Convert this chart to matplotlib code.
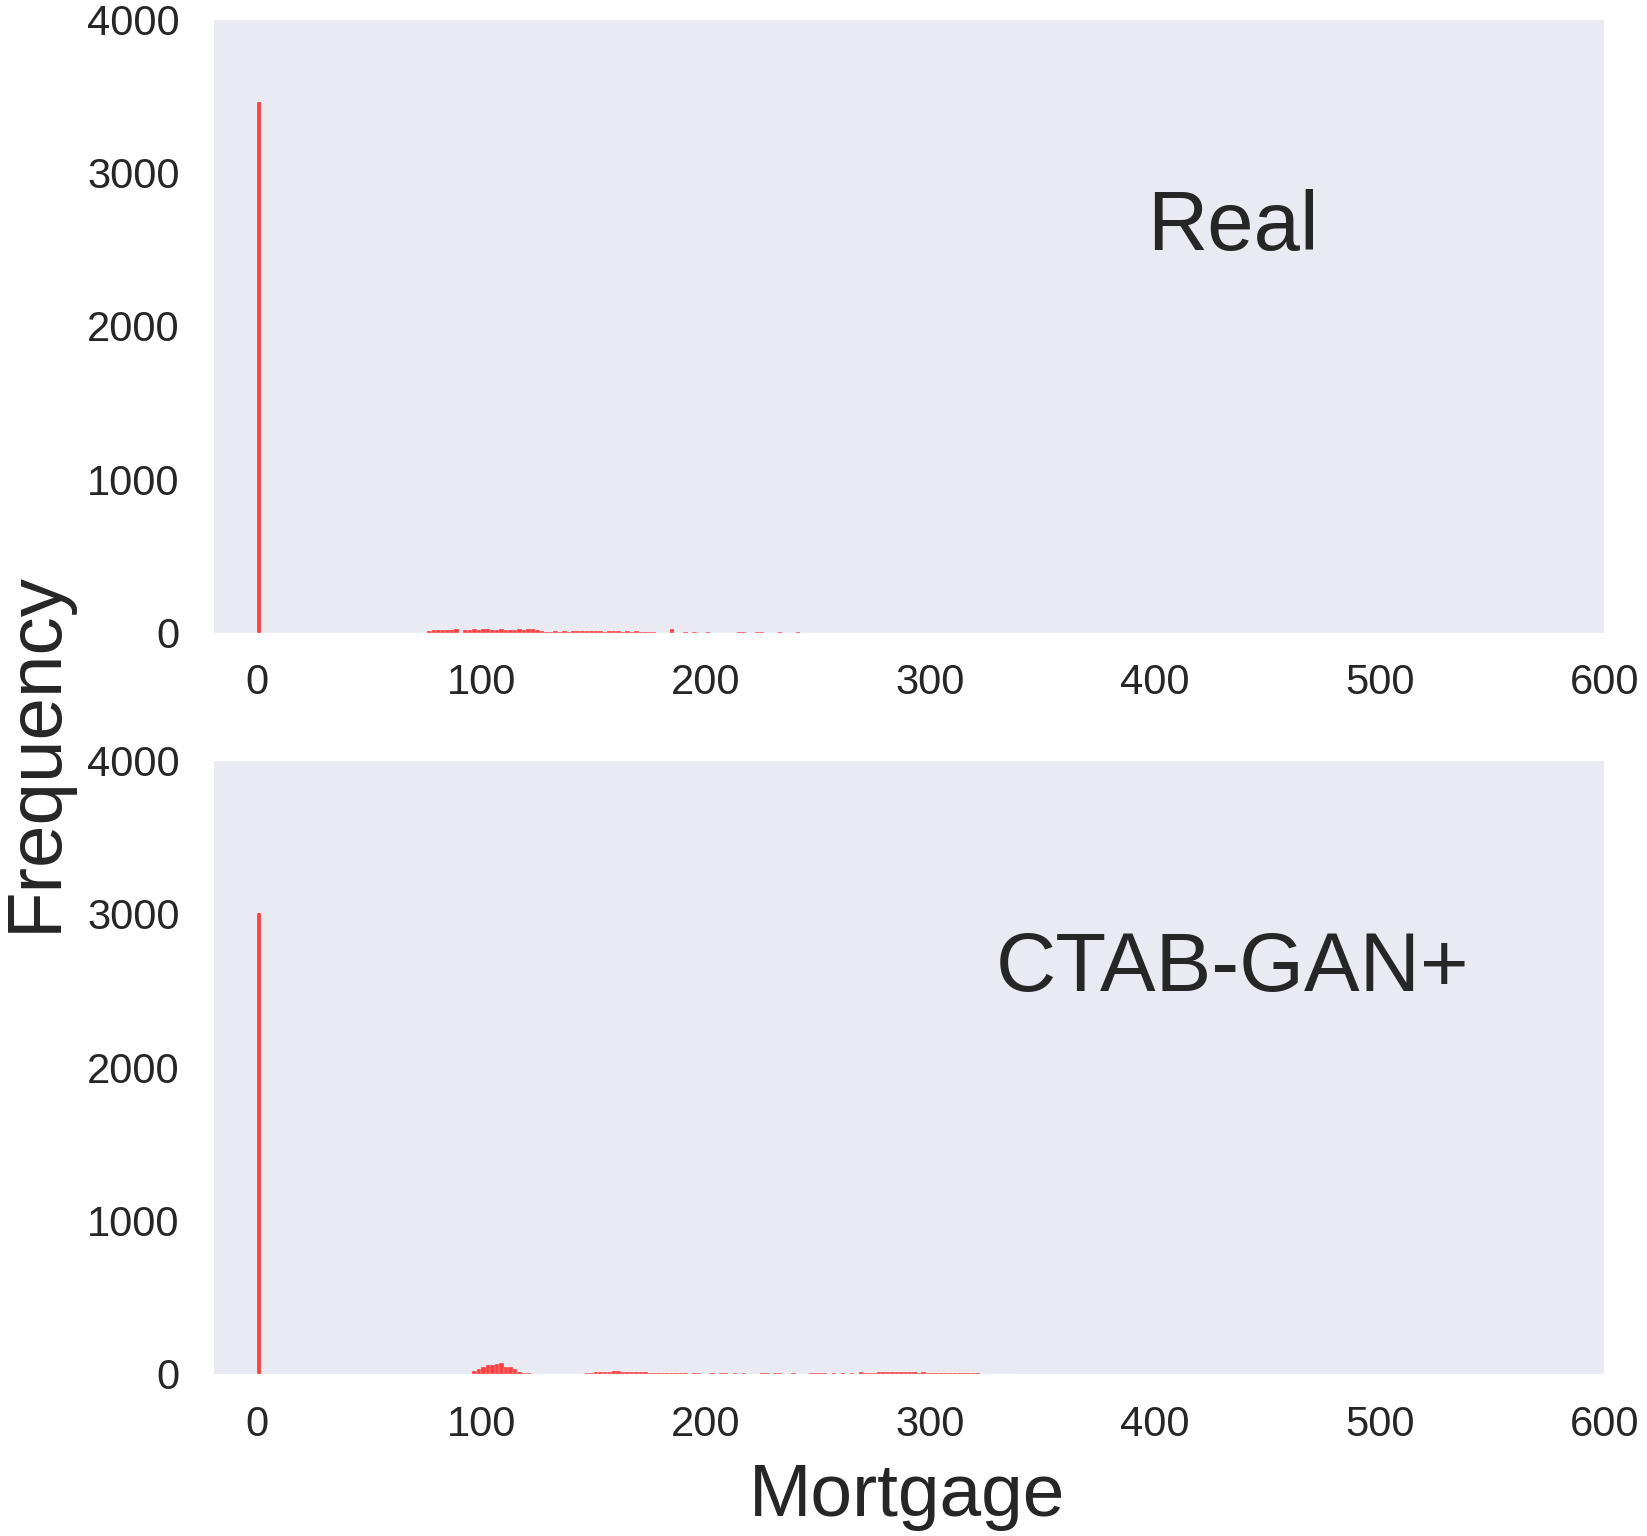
import matplotlib
matplotlib.use("Agg")
import matplotlib.pyplot as plt
import numpy as np
import seaborn as sns

# histogram bins of width 2 (mortgage, in thousands)
bin_width = 2

zero_real = 3462
zero_synth = 3002

real_start = 76
real_counts = [14, 18, 16, 20, 18, 20, 24, 0, 20, 18,
               22, 20, 24, 26, 20, 18, 22, 18, 20, 17,
               22, 19, 24, 26, 20, 14, 8, 6, 10, 8,
               10, 8, 10, 12, 9, 12, 11, 12, 10, 8,
               10, 9, 12, 8, 10, 7, 9, 6, 8, 5,
               6, 0, 0, 0, 24, 0, 0, 5, 0, 6,
               0, 0, 5, 0, 0, 0, 0, 0, 0, 8,
               8, 0, 0, 8, 8, 0, 0, 0, 6, 0,
               0, 0, 6, 0, 0, 0, 0, 0, 0, 0]

synth_start = 96
synth_counts = [22, 33, 46, 59, 59, 65, 72, 46, 46, 33,
                13, 6, 3, 2, 1, 1, 0, 0, 0, 0,
                1, 0, 0, 1, 2, 4, 8, 13, 10, 12,
                14, 18, 20, 14, 12, 10, 14, 10, 12, 8,
                6, 5, 7, 6, 5, 6, 6, 4, 0, 6,
                6, 0, 0, 5, 0, 6, 6, 0, 6, 0,
                5, 0, 0, 0, 6, 6, 0, 6, 5, 0,
                0, 6, 0, 0, 0, 6, 6, 5, 6, 0,
                5, 0, 6, 0, 5, 0, 10, 8, 6, 8,
                10, 12, 12, 10, 14, 12, 10, 12, 10, 8,
                10, 6, 8, 5, 8, 6, 6, 8, 6, 6,
                6, 5, 6, 2, 2, 1, 2, 1, 1, 1,
                1, 1]

panels = [("Real", zero_real, real_start, real_counts),
          ("CTAB-GAN+", zero_synth, synth_start, synth_counts)]

sns.set_style("darkgrid")
plt.rcParams['font.family'] = ['Liberation Sans', 'DejaVu Sans']

fig = plt.figure(figsize=(16.47, 15.36), dpi=100)
boxes = [[0.1293, 0.588, 0.8447, 0.3996], [0.1293, 0.1055, 0.8447, 0.3996]]

for (name, zero, start, counts), box in zip(panels, boxes):
    ax = fig.add_axes(box)
    lefts = np.concatenate([[0], start + bin_width*np.arange(len(counts))])
    heights = np.concatenate([[zero], counts])
    ax.bar(lefts, heights, width=bin_width, align='edge', color='red',
           alpha=0.72, edgecolor='white', linewidth=0.2)
    ax.set_xlim(-19.5, 600)
    ax.set_ylim(0, 4000)
    ax.set_xticks([0, 100, 200, 300, 400, 500, 600])
    ax.set_yticks([0, 1000, 2000, 3000, 4000])
    ax.grid(False)
    ax.tick_params(labelsize=30, length=0, colors='#262626')
    ax.tick_params(axis='y', pad=24)
    ax.tick_params(axis='x', pad=22)
    ax.text(0.733, 0.66, name, transform=ax.transAxes, ha='center',
            va='center', fontsize=60, color='#262626')

fig.text(0.022, 0.511, "Frequency", rotation=90, ha='center', va='center',
         fontsize=55, color='#262626')
fig.text(0.551, 0.026, "Mortgage", ha='center', va='center',
         fontsize=54, color='#262626')

fig.savefig("out.png", dpi=100)
